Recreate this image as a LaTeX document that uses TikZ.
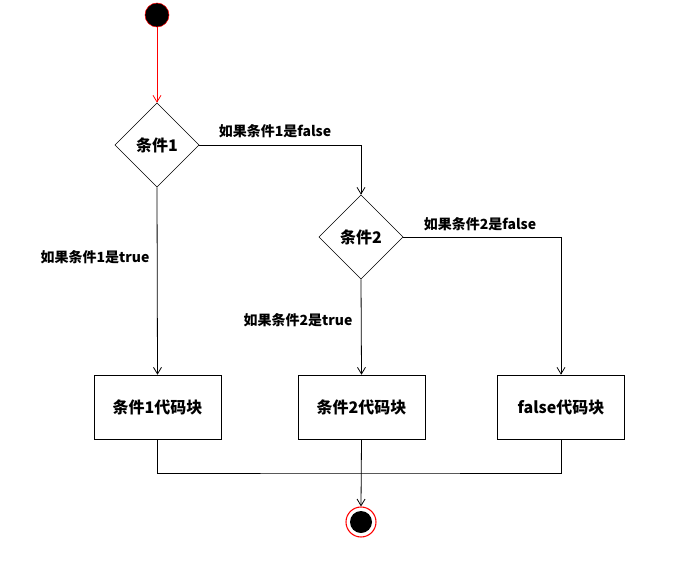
\documentclass[tikz,border=0pt]{standalone}
\usepackage{fontspec}
\setmainfont{Noto Sans CJK SC}
\usetikzlibrary{shapes.geometric,arrows.meta}
\begin{document}
\begin{tikzpicture}[x=0.75pt,y=-0.75pt,
  box/.style={draw,minimum width=127*0.75pt,minimum height=64*0.75pt,font=\bfseries\fontsize{12}{14}\selectfont},
  dia/.style={draw,diamond,minimum width=84*0.75pt,minimum height=84*0.75pt,inner sep=0pt,font=\bfseries\fontsize{12}{14}\selectfont},
  lbl/.style={font=\bfseries\fontsize{10.5}{12}\selectfont,inner sep=1pt},
  arr/.style={-{Straight Barb[length=5pt,width=6pt]},line width=0.6pt},
  ln/.style={line width=0.6pt}]
\useasboundingbox (0,0) rectangle (679,575);
\node[circle,fill=black,draw=red,minimum size=24*0.75pt,inner sep=0pt] (s) at (157,15) {};
\node[dia] (d1) at (157,145) {条件1};
\node[dia] (d2) at (361,237) {条件2};
\node[box] (b1) at (157.5,407) {条件1代码块};
\node[box] (b2) at (361.5,407) {条件2代码块};
\node[box] (b3) at (561,407) {false代码块};
\node[circle,draw=red,line width=0.8pt,minimum size=30*0.75pt,inner sep=0pt] (e) at (361,522) {};
\node[circle,fill=black,minimum size=22*0.75pt,inner sep=0pt] at (e) {};
\coordinate (m) at (361,473);
\draw[arr,red] (s) -- (d1);
\draw[arr] (d1.east) -| (d2.north);
\draw[arr] (d1.south) -- (b1.north);
\draw[arr] (d2.south) -- (b2.north);
\draw[arr] (d2.east) -| (b3.north);
\draw[ln] (b1.south) |- (m) -| (b3.south);
\draw[arr] (b2.south) -- (e.north);
\node[lbl] at (275,131) {如果条件1是false};
\node[lbl] at (95,257) {如果条件1是true};
\node[lbl] at (480,224) {如果条件2是false};
\node[lbl] at (298,320) {如果条件2是true};
\end{tikzpicture}
\end{document}
